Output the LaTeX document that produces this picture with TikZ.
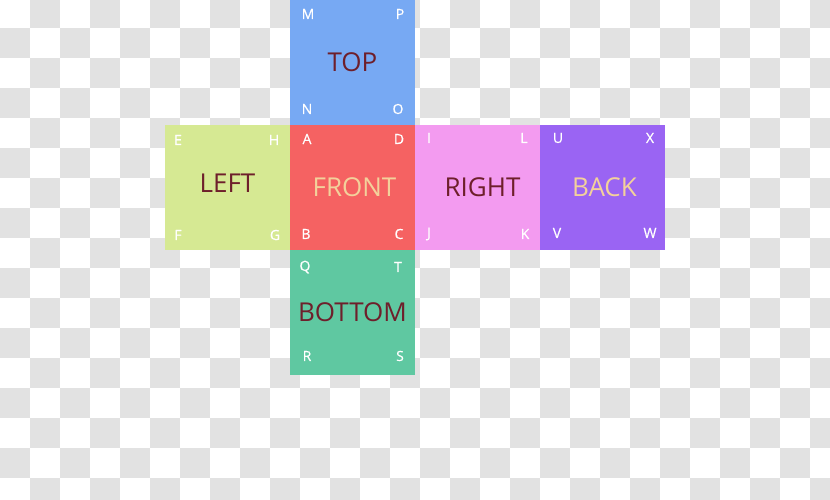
\documentclass[tikz,border=0pt]{standalone}
\usepackage{fontspec}
\setmainfont{Open Sans}
\newfontfamily\cornerfont[FakeBold=0.6]{Open Sans}
\usetikzlibrary{positioning}

\definecolor{checkgray}{HTML}{E2E2E2}
\definecolor{topblue}{HTML}{77A9F3}
\definecolor{leftgreen}{HTML}{D6E993}
\definecolor{frontred}{HTML}{F56262}
\definecolor{rightpink}{HTML}{F39BF0}
\definecolor{backpurple}{HTML}{9A64F3}
\definecolor{bottomteal}{HTML}{5FC8A1}
\definecolor{darkmaroon}{HTML}{6E1F2B}
\definecolor{beige}{HTML}{F3D19B}

\begin{document}
\begin{tikzpicture}[x=1pt,y=-1pt,
		face/.style={rectangle,minimum size=125pt,inner sep=0pt,outer sep=0pt,
			font=\fontsize{26}{30}\selectfont,text=darkmaroon},
		lightname/.style={text=beige},
		corner/.style={inner sep=0pt,text=white,font=\cornerfont\fontsize{14}{16}\selectfont}]
		
		\useasboundingbox (0,0) rectangle (830,500);
		\fill[white] (0,0) rectangle (830,500);
		% checkerboard
		\begin{scope}
		\clip (0,0) rectangle (830,500);
		\foreach \j in {0,...,16}{
			\pgfmathtruncatemacro{\s}{mod(\j+1,2)}
			\pgfmathtruncatemacro{\t}{\s+2}
			\foreach \i in {\s,\t,...,27}
				\fill[checkgray] (\i*30,\j*30-2) rectangle ++(30,30);
		}
		\end{scope}
		
		\node[face,fill=topblue] (top) at (352.5,62.5) {TOP};
		\node[face,fill=leftgreen] (left) at (227.5,187.5) {};
		\node[face,fill=frontred] (front) at (352.5,187.5) {};
		\node[face,fill=rightpink] (right) at (477.5,187.5) {};
		\node[face,fill=backpurple] (back) at (602.5,187.5) {};
		\node[face,fill=bottomteal] (bottom) at (352.5,312.5) {BOTTOM};
		
		\node[face,fill=none,minimum size=0pt] at ([yshift=4pt]left.center) {LEFT};
		\node[face,lightname,fill=none,minimum size=0pt] at ([xshift=2pt]front.center) {FRONT};
		\node[face,fill=none,minimum size=0pt] at ([xshift=5pt]right.center) {RIGHT};
		\node[face,lightname,fill=none,minimum size=0pt] at ([xshift=2pt]back.center) {BACK};
		
		% corner letters
		\node[corner] (M) at ([shift={(18,14)}]top.north west) {M};
		\node[corner] (P) at ([shift={(-15,14)}]top.north east) {P};
		\node[corner] (N) at ([shift={(17,-16)}]top.south west) {N};
		\node[corner] (O) at ([shift={(-17,-16)}]top.south east) {O};
		
		\node[corner] (E) at ([shift={(13,15)}]left.north west) {E};
		\node[corner] (H) at ([shift={(-16,15)}]left.north east) {H};
		\node[corner] (F) at ([shift={(13,-15)}]left.south west) {F};
		\node[corner] (G) at ([shift={(-15,-15)}]left.south east) {G};
		
		\node[corner] (A) at ([shift={(17,14)}]front.north west) {A};
		\node[corner] (D) at ([shift={(-16,14)}]front.north east) {D};
		\node[corner] (B) at ([shift={(16,-16)}]front.south west) {B};
		\node[corner] (C) at ([shift={(-16,-16)}]front.south east) {C};
		
		\node[corner] (I) at ([shift={(14,13)}]right.north west) {I};
		\node[corner] (L) at ([shift={(-16,13)}]right.north east) {L};
		\node[corner] (J) at ([shift={(14,-16)}]right.south west) {J};
		\node[corner] (K) at ([shift={(-15,-16)}]right.south east) {K};
		
		\node[corner] (U) at ([shift={(18,13)}]back.north west) {U};
		\node[corner] (X) at ([shift={(-15,13)}]back.north east) {X};
		\node[corner] (V) at ([shift={(17,-17)}]back.south west) {V};
		\node[corner] (W) at ([shift={(-15,-17)}]back.south east) {W};
		
		\node[corner] (Q) at ([shift={(15,17)}]bottom.north west) {Q};
		\node[corner] (T) at ([shift={(-17,17)}]bottom.north east) {T};
		\node[corner] (R) at ([shift={(17,-19)}]bottom.south west) {R};
		\node[corner] (S) at ([shift={(-15,-19)}]bottom.south east) {S};
		\end{tikzpicture}
\end{document}
